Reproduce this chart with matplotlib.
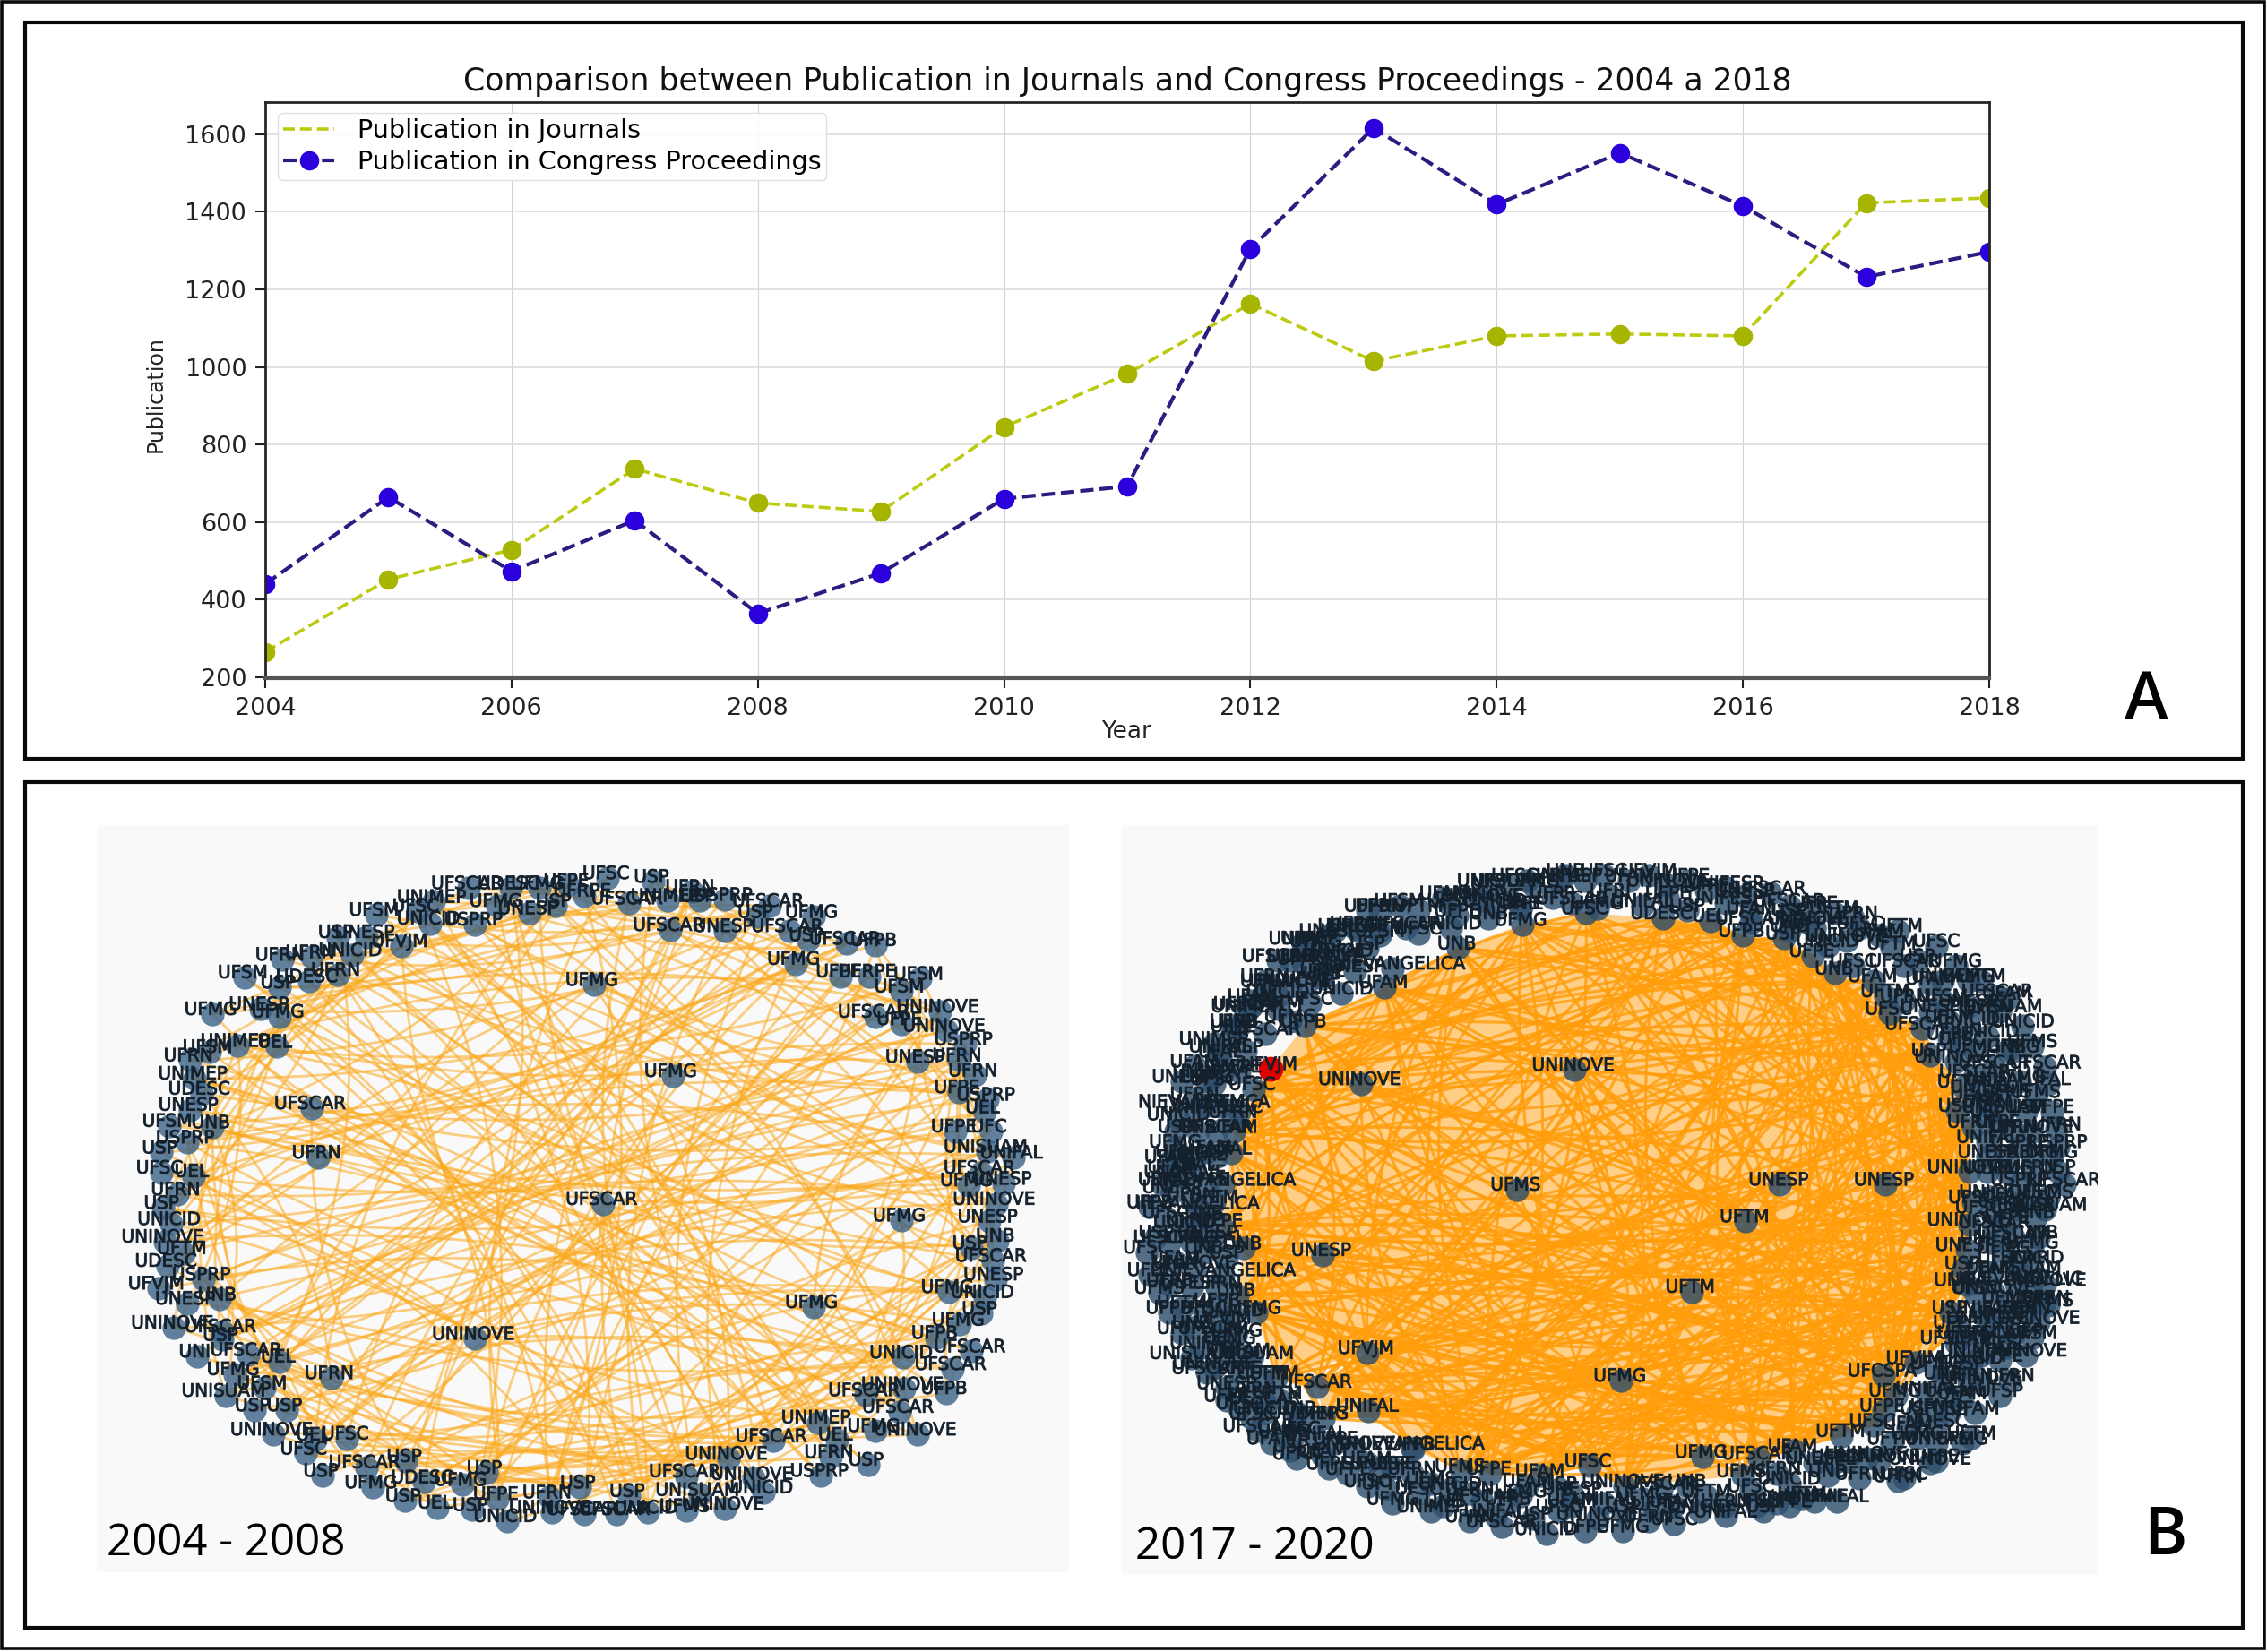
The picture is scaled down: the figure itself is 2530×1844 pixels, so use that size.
import matplotlib
matplotlib.use("Agg")
import matplotlib.pyplot as plt
import matplotlib.patheffects as pe
from matplotlib.collections import PathCollection
from matplotlib.patches import Rectangle, Polygon
from matplotlib.path import Path

# ---------- panel A data ----------
years = [2004, 2005, 2006, 2007, 2008, 2009, 2010, 2011, 2012, 2013, 2014, 2015, 2016, 2017, 2018]
journals = [265, 452, 528, 737, 649, 627, 845, 982, 1163, 1015, 1080, 1085, 1080, 1423, 1436]
proceedings = [440, 664, 473, 604, 364, 468, 660, 692, 1305, 1616, 1419, 1552, 1415, 1232, 1297]
x_ticks = [2004, 2006, 2008, 2010, 2012, 2014, 2016, 2018]
y_ticks = [200, 400, 600, 800, 1000, 1200, 1400, 1600]

# ---------- panel B, 2004-2008 network (positions read in zoom-crop units) ----------
left_labels = [
 "UFSCAR","UDESC","UFMG","UFPE","UFSC","USP","UFRN","USPRP","UFSCAR","UFMG",
 "USP","UFSCAR","UNESP","UFSCAR","USP","UFSCAR","UFPB","UFMG","UFPE","UFRPE",
 "UFSM","UFSM","UNINOVE","UFSCAR","UFPE","UNINOVE","USPRP","UNESP","UFRN","UFRN",
 "UFPE","USPRP","UEL","UFPE","UFC","UNISUAM","UNIFAL","UFSCAR","UFMG","UNESP",
 "UNINOVE","UNESP","USP","UNB","UFSCAR","UNESP","UFMG","UNICID","USP","UFMG",
 "UFPB","UFSCAR","UNICID","UFSCAR","UNINOVE","UFSCAR","UFPB","UFSCAR","UNIMEP","UFMG",
 "UNINOVE","UEL","UFSCAR","UNINOVE","UFRN","USP","UFSCAR","UNINOVE","USPRP","UNICID",
 "USP","USP","UNINOVE","UNISUAM","UNICID","UNINOVE","UFSCAR","UFSCAR","UNICID","UFMS",
 "UFPE","UFRN","UEL","USP","USP","UFMG","UDESC","USP","USP","UFSCAR",
 "UFMG","USP","UFSC","UFSC","UEL","UNINOVE","USP","USP","UNISUAM","UFSM",
 "UFMG","UNI","UFSCAR","UEL","USP","UFSCAR","UNINOVE","UNESP","UNB","UFVJM",
 "USPRP","UDESC","UFTM","UNINOVE","UNICID","USP","UFRN","UFSC","UEL","USP",
 "USPRP","UFSM","UNB","UNESP","UDESC","UNIMEP","UFRN","UFSM","UNIMEP","UEL",
 "UFMG","UNESP","UFMG","UFSM","USP","UDESC","UFRN","UFRN","UFRN","UNICID",
 "UNESP","USP","UFVJM","UFSM","UNIMEP","UFSC","UNICID","USPRP","UFMG","UNESP",
 "USP","UFRPE","UFSCAR","UNIMEP","USP",
 "UFMG","UFMG","UFSCAR","UFRN","UFSCAR","UFMG","UFMG","UNINOVE","UFRN"]
left_x = [
 590,655,700,745,807,878,938,990,1060,1128,
 1040,905,990,1090,1120,1180,1225,1100,1170,1215,
 1295,1265,1325,1225,1265,1335,1365,1290,1355,1380,
 1355,1400,1395,1350,1405,1400,1440,1390,1370,1425,
 1413,1403,1375,1415,1408,1412,1340,1395,1390,1357,
 1320,1375,1268,1345,1270,1210,1335,1263,1135,1225,
 1290,1165,1065,995,1155,1213,930,1035,1140,1050,
 840,763,990,950,650,720,770,820,870,930,
 635,715,540,595,490,580,520,617,492,430,
 440,362,335,400,350,285,255,305,210,270,
 225,165,245,295,205,205,130,150,200,105,
 175,120,145,115,125,113,135,110,160,110,
 150,122,190,155,172,162,155,185,228,290,
 190,265,295,240,295,340,385,298,345,408,
 430,385,485,445,535,510,530,600,635,685,
 725,770,840,900,950,
 785,908,345,355,800,1265,1128,600,375]
left_y = [
 155,155,155,150,135,142,162,178,190,212,
 212,238,240,240,258,265,268,305,330,330,
 335,360,400,410,425,438,465,500,497,527,
 560,575,600,638,638,678,690,720,745,742,
 782,817,870,855,895,932,957,967,1000,1022,
 1048,1075,1087,1110,1150,1162,1158,1195,1216,1233,
 1240,1250,1253,1288,1285,1300,1323,1328,1322,1355,
 1362,1345,1388,1360,1412,1395,1398,1398,1395,1392,
 1368,1365,1385,1390,1372,1340,1335,1316,1293,1305,
 1345,1322,1278,1248,1250,1240,1192,1192,1163,1148,
 1120,1085,1082,1095,1052,1035,1028,980,972,950,
 932,905,880,857,822,790,763,720,727,680,
 660,627,630,595,563,533,497,480,468,470,
 405,395,410,332,352,340,327,297,292,288,
 252,252,270,208,182,200,225,227,190,205,
 190,170,185,180,180,
 347,528,592,690,782,815,987,1050,1128]
left_edge_walk = [
 3,112,40,150,60,130,22,100,47,135,75,6,92,33,125,68,148,52,108,16,
 85,41,140,58,118,30,96,155,72,9,104,38,122,65,1,88,45,160,55,132,
 78,12,110,36,146,62,98,20,128,50,82,157,116,26,70,142,44,94,14,120,
 57,161,34,106,74,4,137,48,90,24,114,66,152,42,84,10,126,59,102,29,
 144,76,18,97,163,37,123,54,86,7,134,63,111,158,27,79,46,141,99,15,
 119,71,39,156,91,53,127,21,107,67,2,145,83,35,115,162,49,93,11,138,
 61,103,25,129,77,43,159,87,17,121,56,101,31,147,69,5,113,51,136,80,
 19,95,163,32,117,73,8,143,60,105,28,124,163,47,89,13,131,64,100,40,
 151,81,23,109,155,44,133,70,6,98,52,120,36,160,75,15,125,58,92,30,
 139,66,110,161,22,86,50,128,10,104,42,146,78,28,116,162,55,94,3,122]
left_short_walk = [
 0,22,5,30,12,38,20,48,28,55,35,62,42,70,50,78,58,88,66,95,72,102,80,110,90,120,98,128,106,136,
 115,145,124,150,130,8,140,15,148,25,2,34,16,44,26,56,36,64,46,74,54,84,63,92,71,100,82,112,94,122,
 104,132,114,142,126,152,134,3,144,10]

# ---------- panel B, 2017-2020 network ----------
right_inner_labels = [
 "UFMG","UFSC","UDESC","UEL","UFPB","USP","UFPE","UNB","UFAM","UFSC",
 "UFSCAR","USP","UFTM","USP","UFRN","UNINOVE","UFSC","UNINOVE","UNESP","USP",
 "UNIFAL","USP","UFPE","UFVJM","UFCSPA","UFMG","UFPE","UFSC","UFTM","UFAM",
 "UFSCAR","UFMG","UFMS","UNINOVE","UFSC","UFAM","UFPE","UFMS","UFPB","UNIFAL",
 "UFMG","UFSCAR","UFVJM","UFTM","UFMG","UNB","UNB","UFPE","UFAL","UFAM",
 "UFSC","UFVJM","UFPB","UFAM","UNB",
 "UNINOVE","UNINOVE","UFMS","UNESP","UNESP","UFTM","UFTM","UNESP","UFMG"]
right_inner_x = [
 640,740,860,935,985,1050,1095,1130,1190,1215,
 1265,1278,1330,1320,1345,1340,1345,1340,1335,1330,
 1335,1310,1320,1255,1205,1225,1205,1190,1140,1065,
 1010,922,985,800,745,670,590,545,470,400,
 330,320,398,255,225,195,205,170,185,190,
 220,247,300,425,540,
 722,388,632,1043,1208,990,905,328,795]
right_inner_y = [
 228,205,215,220,250,255,290,325,340,405,
 435,488,550,598,630,720,780,825,875,912,
 945,1000,1030,1100,1125,1165,1195,1225,1245,1275,
 1290,1287,1325,1345,1305,1325,1320,1315,1272,1195,
 1210,1147,1080,1130,1000,965,872,827,683,640,
 555,515,430,352,275,
 517,545,755,745,745,818,958,885,1135]
right_rim_count = 55
right_red_index = 51
right_mid_labels = [
 "UFPR","UFRJ","UFPE","UNIFESP","USP","UFTM","UFSC","UFTM","UFSCAR","UFAM",
 "UFSM","UNICID","UFMG","UFSCAR","UNIFAL","UFMS","UNISUAM","UFRN","USPRP","UFAL",
 "UFMG","USPRP","UFAM","UFSCAR","UFPE","UFSCAR","UFMG","UFSCAR","UNISUAM","UNIEVANGELIC",
 "UFMS","UNIFAL","UNINOVE","UFSCAR","UNINOVE","UFSP","UFRN","UFAM","UFMG","UDESC",
 "UFTM","UNINOVE","UFRN","UNIFAL","UFPE","UFRN","UFAM","USP","UFSC","UFPB",
 "UFRN","UFMS","UFPE","UFAM","UNIEVANGELICA","UFPE","UFSC","UNIMEP","UFSCAR","UFTM",
 "UNISUAM","UFMG","UFVJM","UFPB","UNIEVANGELICA","UNB","UNESP","UFRPE","IIEVANGELICA","UNIEVANGELICA",
 "UFAL","UFAM","NIEVANGELICA","UFSC","UNIMEP","UFPB","UFSCAR","UNICID","UNB","UNIEVANGELICA",
 "UNINOVE","UNIMEP","UNESP","UFSCAR","UFPE","UNICID"]
right_mid_x = [
 690,780,870,960,1060,1130,1170,1220,1240,1280,
 1300,1340,1350,1380,1385,1400,1395,1410,1420,1400,
 1400,1420,1400,1420,1400,1410,1395,1410,1420,1415,
 1400,1360,1370,1380,1360,1330,1340,1310,1290,1290,
 1220,1200,1170,1100,1040,960,880,800,700,620,
 560,500,440,400,470,350,290,300,240,235,
 220,185,175,165,175,145,150,130,135,175,
 130,150,145,160,160,190,215,260,330,440,
 330,300,385,460,540,600]
right_mid_y = [
 175,170,175,185,210,205,235,275,310,345,
 380,425,480,512,545,570,600,640,670,690,
 722,745,775,795,820,850,880,900,920,942,
 980,1000,1020,1050,1085,1110,1135,1165,1195,1225,
 1260,1295,1330,1375,1380,1385,1385,1395,1395,1380,
 1360,1340,1310,1300,1270,1260,1240,1210,1180,1130,
 1090,1060,1020,985,925,880,850,825,792,745,
 715,680,590,545,465,430,395,370,335,315,
 300,265,240,235,210,190]
right_outer_labels = [
 "UFSC","UFVJM","UFPE","UNIFESP","UFSCAR","UFSCAR","UFPE","UFRN","UFTM","UFSC",
 "UFMG","UFTM","UFSCAR","UFAM","UNISUAM","UNICID","UFMS","UFMG","UFSCAR","UFAL",
 "UFMS","UFPE","UFRN","USPRP","UFMG","USP","UFSCAR","UFMS","UNISUAM","UNINOVE",
 "UFRN","UFMS","UNINOVE","UFSM","UNINOVE","UFRN","UFSP","UFAM","UFTM","UFMG",
 "UFPE","UNINOVE","UFSC","UFRN","UNIFAL","UFPE","USP","UNIFAL","UFSC","UFMG",
 "UFPE","UNICID","UFSCAR","UFRN","UNIMEP","UFMG","UFSC","UFPE","UFRN","UFAM",
 "UFSC","UFPE","UFSCAR","UNISUAM","UFTM","UFPB","UFMS","UFPE","UFSC","USP",
 "UFPB","UFRN","UFAM","UFMG","USP","UNIFAL","UFMG","UFAL","UFPE","UNIMEP",
 "UFAM","UFRN","UFSC","UFMG","USP","UFPB","UFSM","UFAM","UNICID","UFSCAR",
 "UNB","UFPE","UNINOVE","UFSM","UNICID","UFSC","UFMG","UFRN"]
right_outer_x = [
 770,840,900,960,1030,1060,1100,1160,1230,1290,
 1320,1360,1385,1400,1390,1425,1440,1410,1460,1465,
 1445,1470,1478,1480,1470,1480,1490,1465,1460,1460,
 1460,1465,1450,1440,1430,1405,1390,1350,1345,1330,
 1290,1280,1240,1230,1135,1060,1020,960,880,800,
 740,680,610,560,500,440,400,340,290,250,
 220,180,150,125,110,90,75,60,55,70,
 60,80,95,110,100,130,150,170,190,210,
 220,240,280,320,350,400,450,520,590,650,
 710,640,580,420,360,305,175,190]
right_outer_y = [
 130,130,140,155,165,190,195,215,240,270,
 310,340,370,375,400,430,470,480,512,545,
 570,600,635,670,690,720,745,770,795,945,
 980,985,1020,1050,1085,1135,1165,1200,1250,1260,
 1295,1300,1330,1335,1375,1385,1395,1405,1420,1435,
 1435,1440,1425,1415,1395,1380,1345,1310,1290,1260,
 1210,1175,1120,1090,1040,1000,960,925,880,850,
 790,745,720,690,640,600,540,490,440,400,
 380,340,300,270,240,200,190,175,150,140,
 130,195,180,250,290,345,520,610]
right_fill_x = [
 620,660,700,740,810,870,930,990,420,480,530,570,640,720,760,830,900,1000,1090,
 300,340,380,420,480,530,590,260,300,350,400,240,280,330,380,220,260,310,360,200,240,280,
 170,210,130,160,200,110,130,170,200,105,135,165,100,130,165,90,115,150,95,125,160,85,115,145,
 90,125,160,180,100,130,90,125,165,110,145,190,125,160,195,140,175,210,160,200,180,220,260,200,240,290,
 230,270,320,280,330,380,370,420,470,430,480,530,520,580,640,600,660,720,760,850,720,840,930,1000,1060,1120,
 1150,1260,1290,1310,1330,1360,1390,1410,1430,1345,1350,1440,1450,1380,1440,1370,1370,1350,1320,1310,
 1280,1240,1210,1160,1120,1060,1000,
 1340,1300,1260,1200,1150,1100,1340,1370,1310,1330,1370,1400,1350,1420,1360,1430,1370,1440,1385,1370,
 1440,1370,1440,1375,1445,1375,1440,1375,1440,1375,1380,1440,1390,1410,1330,1400,1345,1300,1320,1290,
 1275,1260,1245,1180,1130,1100,1040,1080,1010,920,900,860,830,770,700,650]
right_fill_y = [
 150,150,140,140,140,150,160,170,200,200,190,175,195,185,195,190,200,205,225,
 265,250,235,240,245,235,215,300,305,290,275,350,350,330,320,390,395,385,365,430,445,420,
 480,480,510,530,520,540,575,590,600,615,640,640,670,695,690,700,730,745,760,775,780,810,830,810,
 860,860,860,890,900,910,945,950,950,990,1000,1005,1030,1040,1045,1070,1080,1085,1110,1120,1150,1160,1170,1190,1200,1200,
 1235,1245,1250,1275,1285,1270,1320,1310,1320,1350,1360,1350,1385,1375,1365,1405,1410,1385,1410,1390,1360,1415,1365,1355,1340,1325,
 1295,1250,1260,1200,1170,1140,1095,1045,1000,1060,960,900,850,830,690,660,610,580,500,455,
 400,380,370,310,270,240,225,
 340,340,300,250,260,235,390,400,420,465,450,480,530,540,560,600,590,640,630,690,
 720,720,770,770,810,800,870,860,940,920,960,980,1010,1000,1050,1070,1100,1130,1060,1110,
 1160,1200,1230,1290,1300,1300,1320,1370,1385,1395,1345,1350,1370,1380,1350,1345]
right_fill_names = ["UFSCAR", "UFMG", "UNIFAL", "USP", "UFAM", "UNINOVE", "UFPE", "UNESP", "UFRN", "UFTM", "UFSC", "UNICID", "UNB"]
right_edge_walk = [
 0,30,5,38,12,44,20,50,3,33,9,41,16,47,25,53,1,28,7,36,14,43,22,49,54,31,11,40,18,46,
 24,52,4,35,13,42,21,48,2,29,8,37,15,45,23,51,55,26,6,39,17,60,32,10,58,34,19,59,27,44,
 0,23,48,13,37,56,29,9,50,19,43,3,26,52,16,40,5,31,57,11,35,47,21,1,33,14,61,41,7,24,
 54,28,62,6,38,18,46,10,30,53,25,2,42,15,63,36,12,49,20,4,34,45,17,39,8,27,51,22,44,32,
 55,60,47,5,25,42,9,31,50,13,28,0,19,37,54,11,33,56,22,41,2,24,46,6,29,52,15,38,58,18,
 40,3,21,49,8,35,59,30,48,10,26,45,14,36,1,20,43,61,27,53,16,34,4,23,39,57,12,32,51,7,
 28,47,17,37,62,25,44,9,18,54,31,2,41,13,22,50,6,35,20,46,11,27,63,36,3,15,42,24,55,33,
 0,16,45,29,8,38,21,52,12,30,49,4,26,43,58,19,40,10,34,53,23,1,37,14,47,5,32,60,25,48]
right_short_walk = [
 0,6,2,9,4,12,7,15,10,18,13,21,16,24,19,27,22,30,25,33,28,36,31,39,34,42,37,45,40,48,43,51,46,54,49,3,52,5,0,10,
 3,14,8,19,11,23,17,28,20,32,26,37,29,41,35,46,38,50,44,53,47,1,51,8,54,12,2,16,6,20,9,25,14,30,18,34,22,38,27,43,
 33,48,36,52,41,0,45,4,49,11,53,15,1,13,5,17,7,22,12,26,15,29,21,35,24,40,31,44,34,47,39,51,42,54,48,6,50,10,
 52,2,44,0,36,54,28,46,20,38,12,30,4,23,49,16,41,8,33,53,25,45,18,37,9,29,51,21,43,14,35,6,27,47,19,40,11,32]
panel_titles = ["2004 - 2008", "2017 - 2020"]

# ---------- style ----------
W, H = 2530, 1844
plt.rcParams["font.family"] = "DejaVu Sans"
fig = plt.figure(figsize=(W / 100, H / 100), dpi=100, facecolor="white")

def axes_px(x0, y0, x1, y1, **kw):
    return fig.add_axes([x0 / W, 1 - y1 / H, (x1 - x0) / W, (y1 - y0) / H], **kw)

# frames
over = axes_px(0, 0, W, H, zorder=0)
over.set_xlim(0, W); over.set_ylim(H, 0); over.axis("off")
for x0, y0, x1, y1, lw in [(2, 2, 2527, 1840, 2.6), (28, 25, 2503, 847, 3.0), (28, 873, 2503, 1817, 3.0)]:
    over.add_patch(Rectangle((x0, y0), x1 - x0, y1 - y0, fill=False, ec="#0a0a0a", lw=lw))
over.text(2395, 803, "A", family="Open Sans", fontsize=53, ha="center", va="baseline", color="black", weight="semibold")
over.text(2416, 1735, "B", family="Open Sans", fontsize=53, ha="center", va="baseline", color="black", weight="semibold")

# panel A
ax = axes_px(296, 114, 2220, 757, zorder=2)
ax.plot(years, journals, "--", color="#bccb10", lw=2.6, dashes=(3.6, 1.6), marker="o", ms=14.5,
        mfc="#a7b500", mec="#a7b500", label="_nolegend_")
ax.plot(years, proceedings, "--", color="#2a1c80", lw=3.0, dashes=(3.6, 1.6), marker="o", ms=14.5,
        mfc="#2c00dc", mec="#2c00dc", label="_nolegend_")
ax.plot([], [], "--", color="#bccb10", lw=2.6, dashes=(3.6, 1.6), label="Publication in Journals")
ax.plot([], [], "--", color="#2a1c80", lw=3.0, dashes=(3.6, 1.6), marker="o", ms=14.5, mfc="#2c00dc", mec="#2c00dc",
        label="Publication in Congress Proceedings")
ax.set_xlim(2004, 2018); ax.set_ylim(197, 1683)
ax.set_xticks(x_ticks); ax.set_yticks(y_ticks)
ax.grid(True, axis="x", color="#d2d2d2", lw=0.8)
ax.grid(True, axis="y", color="#dcdcdc", lw=1.2)
ax.set_axisbelow(True)
ax.tick_params(labelsize=19.5, length=8, width=1.5, colors="#222222", pad=7)
for side, sp in ax.spines.items():
    sp.set_linewidth(2.0); sp.set_color("#262626")
ax.spines["bottom"].set_linewidth(3.0); ax.spines["bottom"].set_color("#555555")
ax.set_title("Comparison between Publication in Journals and Congress Proceedings - 2004 a 2018",
             fontsize=24.9, color="#111111", pad=9)
over.text(174, 440, "Publication", rotation=90, fontsize=17, ha="center", va="center", color="#222222")
over.text(1257, 817, "Year", fontsize=19, ha="center", va="center", color="#222222")
ax.legend(loc="upper left", bbox_to_anchor=(0.0075, 0.981), borderaxespad=0, fontsize=20.6, frameon=True,
          framealpha=0.9, edgecolor="#dddddd", handlelength=2.0, labelspacing=0.26, borderpad=0.2, handletextpad=0.9)

def curved(px, py, walk, rad):
    paths = []
    for a, b in zip(walk[:-1], walk[1:]):
        x0, y0, x1, y1 = px[a], py[a], px[b], py[b]
        cx = (x0 + x1) / 2 + rad * (y1 - y0)
        cy = (y0 + y1) / 2 - rad * (x1 - x0)
        paths.append(Path([(x0, y0), (cx, cy), (x1, y1)], [Path.MOVETO, Path.CURVE3, Path.CURVE3]))
    return paths

def network_axes(box, xlim, ylim):
    a = axes_px(*box, zorder=1)
    a.set_facecolor("#f9f9f9")
    a.set_xlim(*xlim); a.set_ylim(*ylim)
    a.set_xticks([]); a.set_yticks([])
    for sp in a.spines.values():
        sp.set_visible(False)
    return a

def node_label(a, t, x, y, z):
    a.text(x, y, t, fontsize=14.4, ha="center", va="center", color="#14202b", alpha=0.88, zorder=z, clip_on=True,
           path_effects=[pe.withStroke(linewidth=0.7, foreground="#14202b")])

# left network
axl = network_axes((108, 921, 1193, 1755), (12, 1530), (1522, 38))
lnx = [v + 3 for v in left_x]
lny = [v + 8 for v in left_y]
axl.add_collection(PathCollection(curved(lnx, lny, left_edge_walk + left_short_walk, 0.14), facecolor="none",
                                  edgecolor="#fba91e", linewidth=2.0, alpha=0.55, zorder=1))
axl.scatter(lnx, lny, s=360, c="#3a6288", alpha=0.8, linewidths=0, zorder=2)
for t, x, y in zip(left_labels, left_x, left_y):
    node_label(axl, t, x, y, 3)
axl.text(28, 1465, panel_titles[0], family="Open Sans", fontsize=35.5, ha="left", va="center", color="black", zorder=4)

# right network
axr = network_axes((1251, 921, 2341, 1758), (15, 1542), (1530, 38))
rix = [v + 2 for v in right_inner_x]
riy = [v + 8 for v in right_inner_y]
axr.add_patch(Polygon(list(zip(rix[:right_rim_count], riy[:right_rim_count])), closed=True,
                      fc="#ffcf88", ec="none", zorder=0.5))
axr.add_collection(PathCollection(curved(rix, riy, right_edge_walk, 0.1), facecolor="none",
                                  edgecolor="#ff9d0a", linewidth=2.3, alpha=0.8, zorder=1))
axr.add_collection(PathCollection(curved(rix, riy, right_short_walk, 0.1), facecolor="none",
                                  edgecolor="#ff9d0a", linewidth=2.3, alpha=0.8, zorder=1))
for xs, ys in [(right_outer_x, right_outer_y), (right_fill_x, right_fill_y), (right_mid_x, right_mid_y)]:
    axr.scatter(xs, [v + 8 for v in ys], s=360, c="#2e4f6e", alpha=0.82, linewidths=0, zorder=2)
axr.scatter(rix, riy, s=360, c="#2e4f6e", alpha=0.82, linewidths=0, zorder=2)
axr.scatter([rix[right_red_index]], [riy[right_red_index]], s=360, c="#e00000", zorder=3)
for labels, xs, ys in [(right_outer_labels, right_outer_x, right_outer_y),
                       (right_fill_names * 17, right_fill_x, right_fill_y),
                       (right_mid_labels, right_mid_x, right_mid_y),
                       (right_inner_labels, right_inner_x, right_inner_y)]:
    for t, x, y in zip(labels, xs, ys):
        node_label(axr, t, x, y, 4)
axr.text(38, 1475, panel_titles[1], family="Open Sans", fontsize=35.5, ha="left", va="center", color="black", zorder=5)

fig.savefig("out.png", dpi=100, facecolor="white")
